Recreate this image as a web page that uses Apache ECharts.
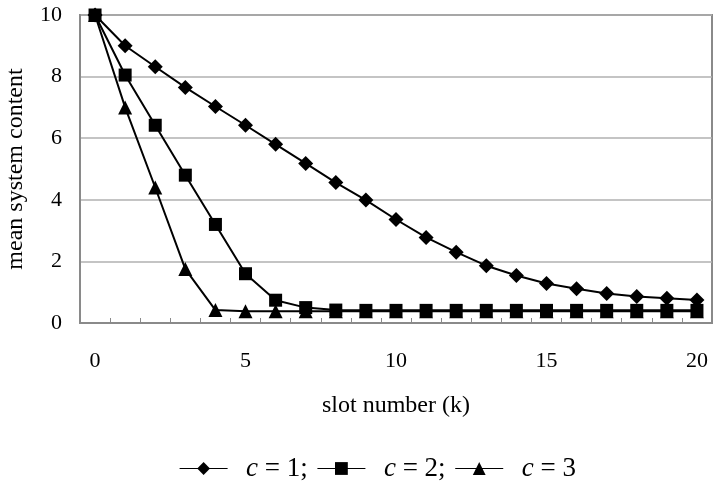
<!DOCTYPE html>
<html>
<head>
<meta charset="utf-8">
<style>
	html, body { margin: 0; padding: 0; background: #fff; }
	#chart { width: 720px; height: 491px; }
</style>
<script src="https://cdn.jsdelivr.net/npm/echarts@6/dist/echarts.min.js"></script>
</head>
<body>
<div id="chart"></div>
<script>
// slot numbers k = 0..20
var slots = ['0', '1', '2', '3', '4', '5', '6', '7', '8', '9', '10',
	'11', '12', '13', '14', '15', '16', '17', '18', '19', '20'];
// mean system content
var c1 = [10, 9.0, 8.32, 7.65, 7.03, 6.42, 5.8, 5.18, 4.56, 3.99, 3.36,
	2.78, 2.3, 1.86, 1.54, 1.28, 1.11, 0.96, 0.86, 0.8, 0.75];
var c2 = [10, 8.05, 6.42, 4.8, 3.2, 1.6, 0.74, 0.5, 0.42, 0.41, 0.41,
	0.41, 0.41, 0.41, 0.41, 0.41, 0.41, 0.41, 0.41, 0.41, 0.41];
var c3 = [10, 7.0, 4.4, 1.75, 0.42, 0.38, 0.38, 0.38, 0.38, 0.38, 0.38,
	0.38, 0.38, 0.38, 0.38, 0.38, 0.38, 0.38, 0.38, 0.38, 0.38];
var names = ['c = 1', 'c = 2', 'c = 3'];

var font = '"Liberation Serif", "DejaVu Serif", serif';

function lineSeries(name, data, symbol, size) {
	return {
		name: name,
		type: 'line',
		data: data,
		symbol: symbol,
		symbolSize: size,
		showAllSymbol: true,
		lineStyle: { color: '#000', width: 2 },
		itemStyle: { color: '#000' },
		animation: false
	};
}

var myChart = echarts.init(document.getElementById('chart'));

var option = {
	backgroundColor: '#fff',
	textStyle: { fontFamily: font, color: '#000' },
	grid: {
		left: 80,
		right: 8,
		top: 15,
		bottom: 168,
		outerBoundsMode: 'none',
		containLabel: false,
		show: true,
		borderColor: '#8a8a8a',
		borderWidth: 2
	},
	legend: {
		top: 450,
		left: 174,
		itemWidth: 48,
		itemHeight: 16,
		itemGap: 9,
		data: names,
		lineStyle: { width: 1.2 },
		formatter: function(name) {
			var n = name.split('= ')[1];
			var end = n === '3' ? '' : ';';
			return '  {i|c} = ' + n + end;
		},
		textStyle: {
			fontFamily: font,
			fontSize: 27,
			color: '#000',
			rich: {
				i: { fontFamily: font, fontSize: 27, fontStyle: 'italic', color: '#000' }
			}
		}
	},
	xAxis: {
		type: 'category',
		data: slots,
		boundaryGap: true,
		name: 'slot number (k)',
		nameLocation: 'middle',
		nameGap: 71,
		nameTextStyle: { fontFamily: font, fontSize: 24, color: '#000' },
		axisLine: { lineStyle: { color: '#8a8a8a', width: 2 } },
		axisTick: { show: true, inside: true, length: 5, interval: 0, lineStyle: { color: '#8a8a8a' } },
		axisLabel: {
			interval: 4,
			margin: 27,
			fontFamily: font,
			fontSize: 22,
			color: '#000'
		},
		splitLine: { show: false }
	},
	yAxis: {
		type: 'value',
		min: 0,
		max: 10,
		interval: 2,
		name: 'mean system content',
		nameLocation: 'middle',
		nameGap: 52,
		nameTextStyle: { fontFamily: font, fontSize: 24, color: '#000' },
		axisLine: { show: true, lineStyle: { color: '#8a8a8a', width: 2 } },
		axisTick: { show: false },
		axisLabel: { margin: 18, fontFamily: font, fontSize: 22, color: '#000' },
		splitLine: { lineStyle: { color: '#b0b0b0', width: 1.5 } }
	},
	series: [
		lineSeries(names[0], c1, 'diamond', 15),
		lineSeries(names[1], c2, 'rect', 13),
		lineSeries(names[2], c3, 'triangle', 14)
	]
};

myChart.setOption(option);
</script>
</body>
</html>
